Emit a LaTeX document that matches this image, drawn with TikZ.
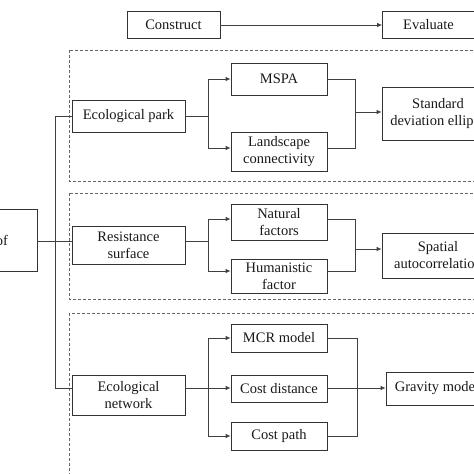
\documentclass[tikz,border=0pt]{standalone}
\usepackage{fontspec}
\setmainfont{Liberation Serif}
\usetikzlibrary{arrows.meta}
\begin{document}
\begin{tikzpicture}[x=1pt,y=-1pt,
  boxnode/.style={draw=black!80, line width=0.8pt, align=center, inner sep=0pt,
    font=\fontsize{14.5}{17}\selectfont, text=black!90},
  conn/.style={draw=black!75, line width=0.8pt},
  arr/.style={conn, -{Latex[length=5pt,width=4.5pt]}},
  dashbox/.style={draw=black!60, line width=0.8pt, dash pattern=on 3pt off 2pt}]
\useasboundingbox (0,0) rectangle (474,474);
\clip (0,0) rectangle (474,474);
% dashed groups
\draw[dashbox] (69,50) rectangle (490,181);
\draw[dashbox] (69,193) rectangle (490,299);
\draw[dashbox] (69,313) rectangle (490,490);
% top row
\node[boxnode, minimum width=93pt, minimum height=27pt] (con) at (173.5,25) {Construct};
\node[boxnode, minimum width=92pt, minimum height=27pt] (eva) at (428.5,25) {Evaluate};
% left partial box
\node[boxnode, minimum width=97pt, minimum height=62pt, text width=39pt, inner xsep=29pt, align=right] (main) at (-11.5,240) {of};
% group 1
\node[boxnode, minimum width=113pt, minimum height=32pt] (ep) at (128.5,116) {Ecological park};
\node[boxnode, minimum width=96pt, minimum height=32pt] (mspa) at (279,79) {MSPA};
\node[boxnode, minimum width=96pt, minimum height=39pt] (lc) at (279,151.5) {Landscape\\connectivity};
\node[boxnode, minimum width=112pt, minimum height=53pt] (sde) at (438,113.5) {Standard\\deviation ellipse};
% group 2
\node[boxnode, minimum width=113pt, minimum height=38pt] (rs) at (128.5,245) {Resistance\\surface};
\node[boxnode, minimum width=96pt, minimum height=36pt] (nf) at (279,222) {Natural\\factors};
\node[boxnode, minimum width=96pt, minimum height=34pt] (hf) at (279,276) {Humanistic\\factor};
\node[boxnode, minimum width=112pt, minimum height=45pt] (sa) at (438,255.5) {Spatial\\autocorrelation};
% group 3
\node[boxnode, minimum width=113pt, minimum height=40pt] (en) at (128.5,395) {Ecological\\network};
\node[boxnode, minimum width=96pt, minimum height=28pt] (mcr) at (279,338) {MCR model};
\node[boxnode, minimum width=96pt, minimum height=27pt] (cd) at (279,388.5) {Cost distance};
\node[boxnode, minimum width=96pt, minimum height=28pt] (cp) at (279,436) {Cost path};
\node[boxnode, minimum width=102pt, minimum height=33pt] (gm) at (437,388.5) {Gravity model};
% junction coordinates
\coordinate (trunkT) at (55,116);
\coordinate (trunkB) at (55,388);
\coordinate (j1) at (208,116);
\coordinate (m1) at (355,112);
\coordinate (j2) at (208,241);
\coordinate (m2) at (355,249);
\coordinate (j3) at (208,388);
\coordinate (m3) at (357,388);
% connectors
\draw[arr] (con.east) -- (eva.west);
\draw[conn] (trunkT) -- (trunkB);
\draw[conn] (trunkT) -- (ep.west);
\draw[conn] (trunkB) -- ([yshift=7pt]en.west);
\draw[conn] ([yshift=-1pt]main.east) -- ([yshift=4pt]rs.west);
% group 1
\draw[conn] (ep.east) -- (j1);
\draw[arr] (j1) |- (mspa.west);
\draw[arr] (j1) |- ([yshift=3.5pt]lc.west);
\draw[conn] (mspa.east) -| (m1);
\draw[conn] ([yshift=3.5pt]lc.east) -| (m1);
\draw[arr] (m1) -- ([yshift=1.5pt]sde.west);
% group 2
\draw[conn] ([yshift=4pt]rs.east) -- (j2);
\draw[arr] (j2) |- ([yshift=3pt]nf.west);
\draw[arr] (j2) |- ([yshift=5pt]hf.west);
\draw[conn] ([yshift=3pt]nf.east) -| (m2);
\draw[conn] ([yshift=5pt]hf.east) -| (m2);
\draw[arr] (m2) -- ([yshift=6.5pt]sa.west);
% group 3
\draw[conn] ([yshift=7pt]en.east) -- (j3);
\draw[arr] (j3) |- (mcr.west);
\draw[arr] (j3) -- ([yshift=0.5pt]cd.west);
\draw[arr] (j3) |- (cp.west);
\draw[conn] (mcr.east) -| (m3);
\draw[conn] ([yshift=0.5pt]cd.east) -- (m3);
\draw[conn] (cp.east) -| (m3);
\draw[arr] (m3) -- ([yshift=0.5pt]gm.west);
\end{tikzpicture}
\end{document}
